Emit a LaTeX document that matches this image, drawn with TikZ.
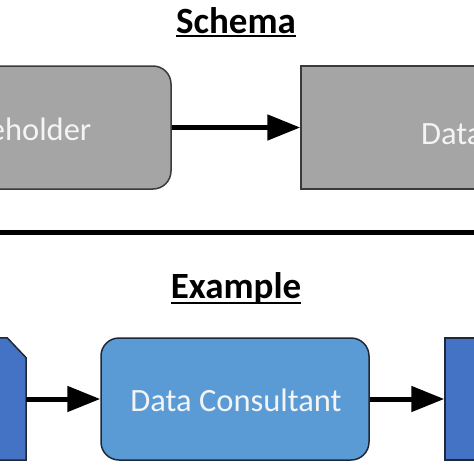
\documentclass[tikz,border=0pt]{standalone}
\usepackage{fontspec}
\setmainfont{Carlito}
\usetikzlibrary{arrows.meta}
\definecolor{grayfill}{HTML}{A5A5A5}
\definecolor{grayline}{HTML}{3A3A3A}
\definecolor{lightblue}{HTML}{5B9BD5}
\definecolor{darkblue}{HTML}{4472C4}
\definecolor{blueline}{HTML}{1E2838}
\definecolor{boxtext}{HTML}{F4F4F4}
\tikzset{
  graybox/.style={draw=grayline, fill=grayfill, line width=1.5pt, inner sep=0pt},
  bluebox/.style={draw=blueline, fill=lightblue, line width=1.5pt, inner sep=0pt},
  darkbox/.style={draw=blueline, fill=darkblue, line width=1.5pt, inner sep=0pt},
  boxlabel/.style={text=boxtext, font=\fontsize{32.5}{38}\selectfont, inner sep=0pt},
  heading/.style={font=\fontsize{37}{42}\selectfont\bfseries, inner sep=0pt},
  flow/.style={line width=5pt, -{Triangle[length=33pt,width=25pt]}},
}
\begin{document}
\begin{tikzpicture}[x=1pt,y=-1pt]
\useasboundingbox (0,0) rectangle (474,474);
\begin{scope}
\clip (0,0) rectangle (474,474);
% Schema section
\node[heading, anchor=base] (schema) at (236,33) {Schema};
\draw[line width=2.6pt] ([yshift=-3pt]schema.base west) -- ([yshift=-3pt]schema.base east);
\node[graybox, rounded corners=18pt, minimum width=300pt, minimum height=123pt] (holder) at (21,127.5) {};
\node[boxlabel, anchor=base east] (holdertext) at (91.5,140) {eholder};
\node[graybox, minimum width=300pt, minimum height=123pt] (data) at (451,127.5) {};
\node[boxlabel, anchor=base west] (datatext) at (421,144) {Data};
\draw[flow] (holder.east) -- (data.west);
% separator
\coordinate (sepL) at (-10,232.5);
\coordinate (sepR) at (484,232.5);
\draw[line width=4.5pt] (sepL) -- (sepR);
% Example section
\node[heading, anchor=base] (example) at (236,298.5) {Example};
\draw[line width=2.6pt] ([yshift=-4.5pt]example.base west) -- ([yshift=-4.5pt]example.base east);
\node[minimum width=126pt, minimum height=122pt, inner sep=0pt] (src) at (-37,399) {};
\draw[darkbox] (src.north west) -- ([xshift=-19pt]src.north east) -- ([yshift=-20pt]src.north east) -- (src.south east) -- (src.south west) -- cycle;
\node[bluebox, rounded corners=18pt, minimum width=268pt, minimum height=122pt] (consult) at (235,399) {};
\node[boxlabel, anchor=base] (consulttext) at (236,411.5) {Data Consultant};
\node[darkbox, minimum width=160pt, minimum height=122pt] (dst) at (525,399) {};
\draw[flow] (src.east) -- (consult.west);
\draw[flow] (consult.east) -- (dst.west);
\end{scope}
\end{tikzpicture}
\end{document}
